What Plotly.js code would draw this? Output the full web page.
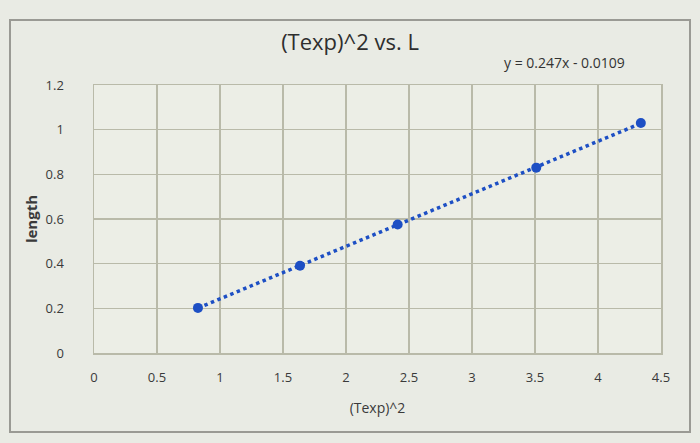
<!DOCTYPE html>
<html>
<head>
<meta charset="utf-8">
<script src="https://cdn.plot.ly/plotly-3.0.1.min.js"></script>
<style>
html,body{margin:0;padding:0;background:#e9ebe4;}
#chart{width:700px;height:443px;}
</style>
</head>
<body>
<div id="chart"></div>
<script>
// Data
const texpSquared = [0.825, 1.635, 2.41, 3.51, 4.34];
const lengthVals  = [0.202, 0.391, 0.575, 0.83, 1.03];
const equationText = "y = 0.247x - 0.0109";
const xTicks = [0, 0.5, 1, 1.5, 2, 2.5, 3, 3.5, 4, 4.5];
const yTicks = [0, 0.2, 0.4, 0.6, 0.8, 1, 1.2];

// Linear trendline (least squares, as Excel does) through the data
const n = texpSquared.length;
const mx = texpSquared.reduce((a, b) => a + b, 0) / n;
const my = lengthVals.reduce((a, b) => a + b, 0) / n;
let sxy = 0, sxx = 0;
for (let i = 0; i < n; i++) {
  sxy += (texpSquared[i] - mx) * (lengthVals[i] - my);
  sxx += (texpSquared[i] - mx) ** 2;
}
const slope = sxy / sxx;
const intercept = my - slope * mx;
const trendX = [Math.min(...texpSquared), Math.max(...texpSquared)];
const trendY = trendX.map(x => slope * x + intercept);

const font = '"Open Sans", Lato, sans-serif';
const blue = '#1d4fc4';

const data = [
  {x: trendX, y: trendY, mode: 'lines', type: 'scatter',
   line: {color: blue, width: 3.5, dash: 'dot'}, hoverinfo: 'skip'},
  {x: texpSquared, y: lengthVals, mode: 'markers', type: 'scatter',
   marker: {color: blue, size: 10}}
];

const layout = {
  width: 700, height: 443,
  margin: {l: 94, r: 39, t: 85, b: 90},
  paper_bgcolor: '#e9ebe4',
  plot_bgcolor: '#eceee6',
  showlegend: false,
  font: {family: font, color: '#3a3a3a', size: 13},
  title: {text: '(Texp)^2 vs. L', font: {family: font, size: 22, color: '#2e2e2e'},
          x: 0.5, xanchor: 'center', y: 0.905, yanchor: 'middle'},
  xaxis: {range: [0, 4.5], tickvals: xTicks, ticktext: xTicks.map(String),
          showgrid: true, gridcolor: '#b9baa9', gridwidth: 1.5,
          zeroline: false, showline: true, linecolor: '#b9baa9', linewidth: 1.5, mirror: true,
          ticks: '', ticklabelstandoff: 12,
          tickfont: {size: 13, color: '#3a3a3a'},
          title: {text: '(Texp)^2', font: {size: 14, color: '#3a3a3a'}, standoff: 18}},
  yaxis: {range: [0, 1.2], tickvals: yTicks, ticktext: yTicks.map(String),
          showgrid: true, gridcolor: '#b9baa9', gridwidth: 1.5,
          zeroline: false, showline: true, linecolor: '#b9baa9', linewidth: 1.5, mirror: true,
          ticks: '', ticklabelstandoff: 26,
          tickfont: {size: 13, color: '#3a3a3a'},
          title: {text: '<b>length</b>', font: {size: 15, color: '#3a3a3a'}, standoff: 4}},
  annotations: [
    {text: equationText, xref: 'paper', yref: 'paper', x: 0.83, y: 1.085,
     xanchor: 'center', yanchor: 'middle', showarrow: false,
     font: {family: font, size: 14, color: '#333'}}
  ],
  shapes: [
    {type: 'rect', xref: 'paper', yref: 'paper',
     x0: (10 - 94) / 567, x1: (690 - 94) / 567,
     y0: (353 - 432) / 268, y1: (353 - 20) / 268,
     line: {color: '#9a9a94', width: 2}, fillcolor: 'rgba(0,0,0,0)', layer: 'below'}
  ]
};

Plotly.newPlot('chart', data, layout, {displayModeBar: false, staticPlot: true});
</script>
</body>
</html>
